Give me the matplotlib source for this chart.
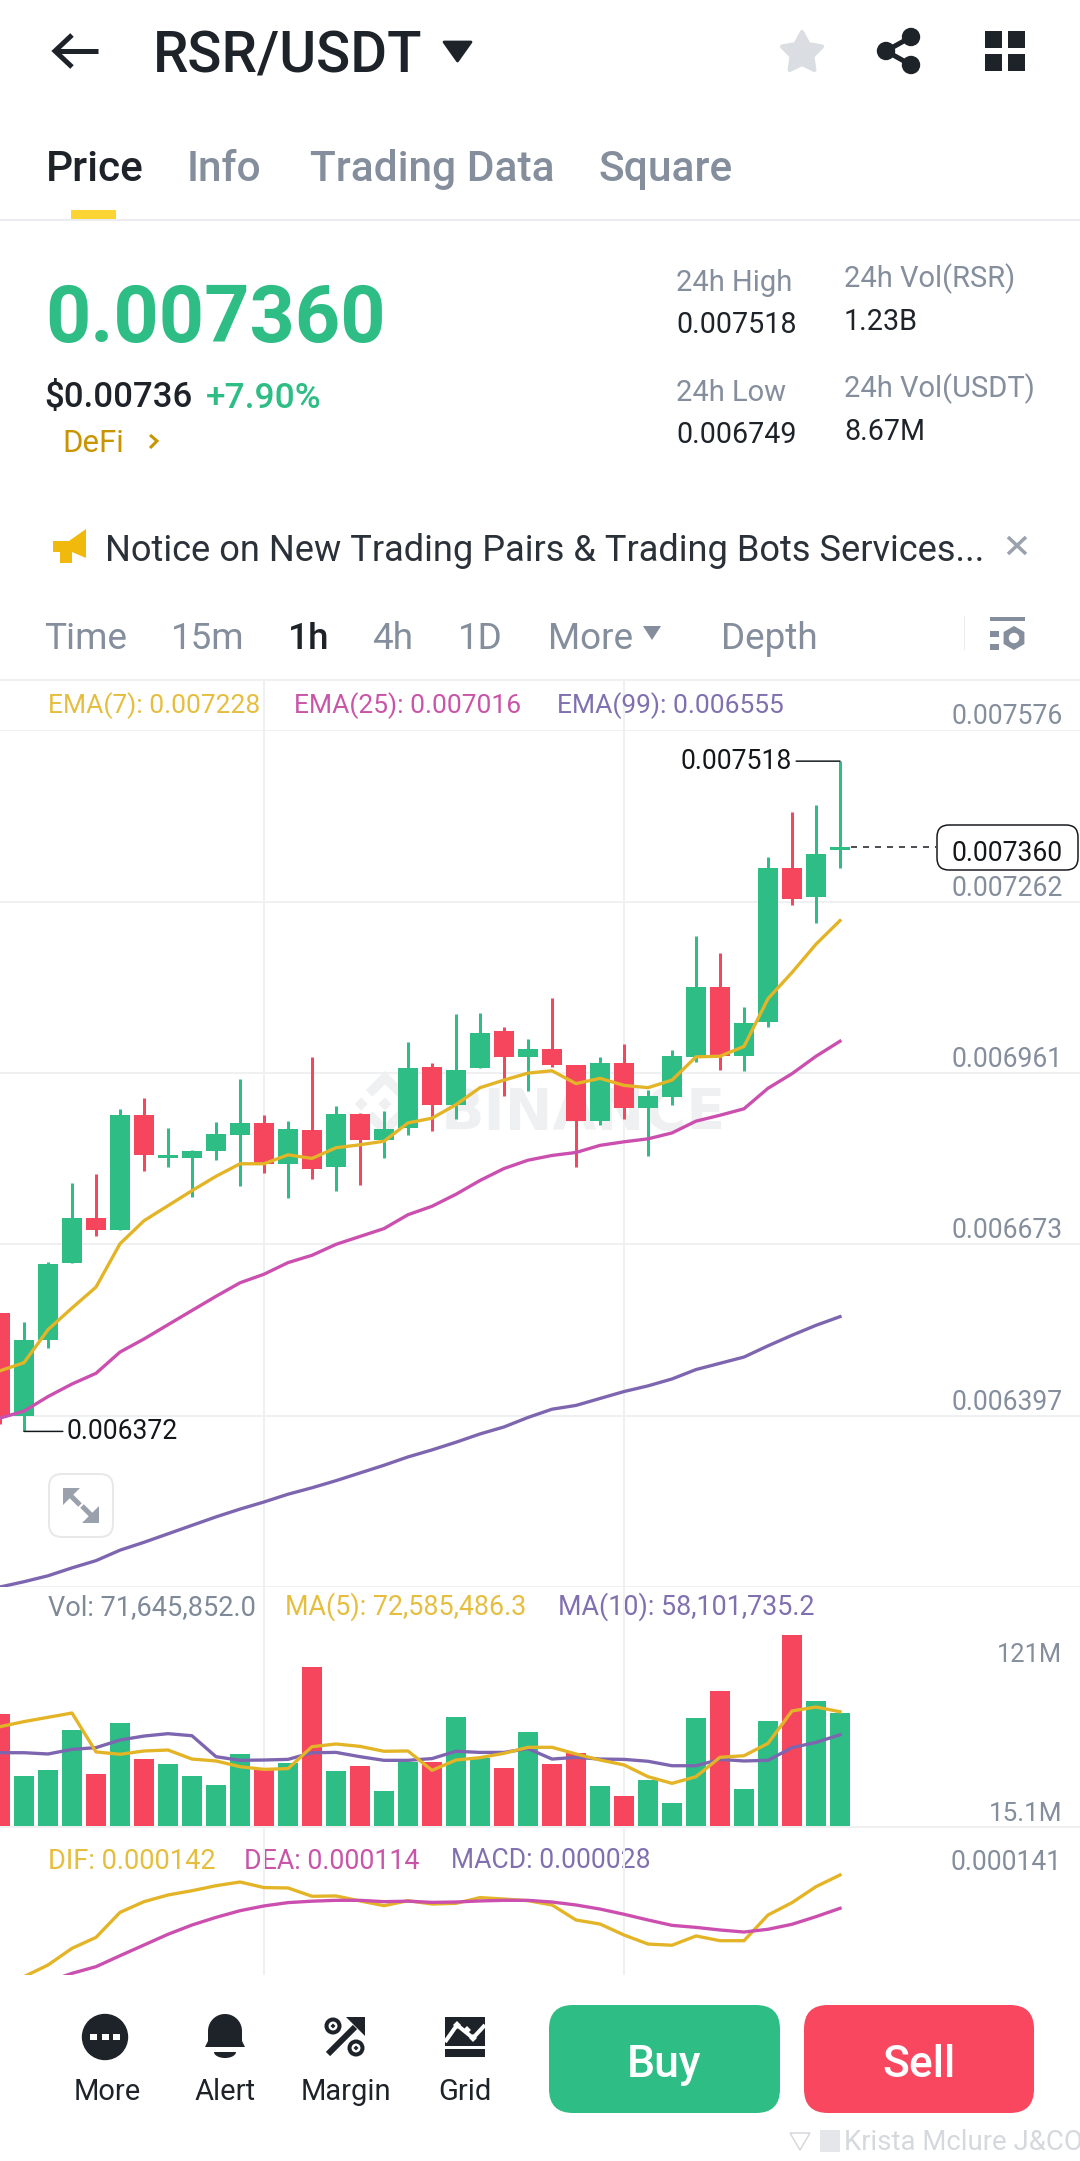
import numpy as np
import matplotlib
matplotlib.use("Agg")
import matplotlib.pyplot as plt
from matplotlib.patches import Polygon, FancyBboxPatch, Circle, Rectangle

plt.rcParams['font.family'] = ['Roboto', 'DejaVu Sans']

# ---------- data (prices in millionths, volume in millions) ----------
opens = [6561,6396,6517,6642,6716,6697,6890,6816,6816,6828,6856,6875,6807,6864,6802,6891,6847,6868,6972,6907,6969,7033,6988,7002,6975,6880,6978,6901,6920,6989,7111,6991,7050,7322,7270,7355]
highs = [6561,6546,6644,6775,6790,6900,6918,6868,6830,6877,6951,6890,6880,6988,6905,6893,6896,7015,6978,7063,7065,7041,7020,7091,6975,6989,7012,6932,7001,7201,7170,7075,7343,7424,7437,7518]
lows = [6384,6372,6505,6642,6686,6697,6795,6802,6751,6814,6770,6792,6750,6782,6762,6772,6816,6855,6862,6883,6969,6921,6930,6971,6802,6872,6883,6820,6906,6980,6966,6964,7041,7255,7224,7322]
closes = [6397,6517,6641,6716,6697,6890,6821,6821,6828,6857,6875,6807,6866,6799,6891,6847,6866,6970,6907,6966,7030,6988,7003,6975,6879,6978,6902,6921,6990,7111,6991,7048,7323,7267,7348,7360]
ema7 = [6468,6481,6534,6569,6603,6674,6712,6737,6762,6786,6807,6807,6822,6816,6834,6839,6845,6876,6884,6907,6936,6949,6961,6965,6943,6952,6940,6936,6949,6989,6990,7007,7090,7136,7186,7228]
ema25 = [6393,6404,6427,6447,6464,6498,6519,6542,6565,6588,6610,6624,6643,6655,6673,6686,6699,6722,6736,6756,6779,6799,6813,6821,6826,6838,6844,6849,6859,6879,6889,6900,6935,6960,6990,7016]
ema99 = [6132,6140,6149,6161,6172,6188,6200,6213,6226,6239,6251,6262,6274,6284,6295,6307,6319,6332,6343,6355,6368,6379,6394,6407,6413,6424,6435,6444,6455,6470,6480,6490,6508,6525,6541,6555]
volume = [71.0,32.3,35.7,61.1,33.6,65.3,43.1,39.9,32.1,26.7,46.2,35.9,40.3,101.0,35.1,38.2,22.5,41.0,41.0,69.1,43.3,37.2,59.9,39.5,46.6,25.6,19.7,29.6,15.1,68.5,85.5,23.9,67.0,121.0,79.6,71.6]
vol_ma5 = [63.2,66.4,69.1,71.8,47.3,45.8,47.9,48.5,42.8,41.6,38.0,36.3,36.8,50.6,52.3,50.8,47.7,47.9,35.7,42.2,43.7,46.4,50.2,50.2,46.0,42.2,39.1,31.7,27.5,31.7,43.9,44.9,52.7,73.1,75.6,72.6]
vol_ma10 = [46.8,46.8,46.0,48.9,50.0,54.8,57.3,58.8,57.5,44.3,42.0,42.2,42.6,46.8,47.0,44.3,42.0,42.0,43.1,47.7,47.0,47.0,49.4,42.8,43.9,42.8,42.6,41.4,38.6,38.6,42.6,41.6,42.0,50.0,53.3,58.1]
dif = [44,56.6,66.4,80.4,89.6,110.6,119.6,125.2,128.8,133,136.1,131.4,131.1,124.1,124.4,120.2,116.2,120.4,117.6,118.2,123,121.8,120.4,116.8,104.2,100.8,91.6,84,83,90.8,86.8,86.8,108.4,118.8,132.2,142]
dea = [40,46,52.4,59.4,65,74.2,83.2,92.2,100,106.4,112,116,118.8,120,120.7,120.7,119.6,120,119,119.3,120.2,120.7,120.7,119.3,116.8,113.4,109,104.2,99.7,98,95.8,94.1,96.4,100.6,107,114]
price_ticks = [7576, 7262, 6961, 6673, 6397, 6132]
time_ticks = [11, 26]

GREEN, RED = '#2EBD85', '#F6465D'
YEL, PINK, PUR = '#E4B427', '#CB4FAE', '#7D65B0'
YELT, PINKT, PURT = '#E6BE3F', '#C955A9', '#8070B0'
GREY, DARK, GRID = '#848E9C', '#1E2329', '#EEF0F2'
LW = 3.3

W, H = 1080, 2161
fig = plt.figure(figsize=(W/100, H/100), dpi=100, facecolor='white')
PX = 0.72

ui = fig.add_axes([0, 0, 1, 1], zorder=0)
ui.set_xlim(0, W); ui.set_ylim(H, 0); ui.axis('off')

def pane(top, bottom):
    a = fig.add_axes([0, 1-bottom/H, 1, (bottom-top)/H], zorder=1)
    a.patch.set_alpha(0)
    for s in a.spines.values():
        s.set_visible(False)
    a.set_xlim(0, 45)
    a.set_xticks(time_ticks)
    a.tick_params(length=0, labelbottom=False, labelleft=False)
    a.grid(True, axis='x', color=GRID, lw=2*PX)
    a.set_axisbelow(True)
    return a

def T(x, yc, s, size, color=DARK, ha='left', weight='normal', **k):
    yb = yc + 0.711*size/PX/2
    if ha == 'left':
        x = x - 2
    ui.text(x, yb, s, fontsize=size, color=color, ha=ha, va='baseline', weight=weight, zorder=5, **k)

def P(pts, color=DARK, **k):
    ui.add_patch(Polygon(pts, closed=True, facecolor=color, edgecolor=k.pop('ec', 'none'), **k))

def L(xs, ys, color=DARK, w=3, **k):
    ui.plot(xs, ys, color=color, lw=w*PX, solid_capstyle=k.pop('cap', 'butt'), solid_joinstyle='miter', **k)

def R(x0, y0, x1, y1, color=DARK):
    ui.add_patch(Rectangle((x0, y0), x1-x0, y1-y0, facecolor=color, edgecolor='none'))

# ---------- header ----------
L([56, 98], [51, 51], w=5)
L([72, 55, 72], [35, 51, 67], w=5)
T(155, 52, 'RSR/USDT', 40.7, weight='medium')
P([(444, 42), (471, 42), (457.5, 61)], ec=DARK, lw=2, joinstyle='round')
ang = np.deg2rad(np.arange(10)*36 - 90)
rad = np.where(np.arange(10) % 2 == 0, 21, 11)
P(np.c_[802+rad*np.cos(ang), 53+rad*np.sin(ang)], color='#DADDE1', ec='#DADDE1', lw=3, joinstyle='round')
L([911, 886, 911], [37, 51, 65], w=5)
for cx, cy in [(911, 37), (886, 51), (911, 65)]:
    ui.add_patch(Circle((cx, cy), 8.5, color=DARK))
for x0 in (985, 1008):
    for y0 in (31, 54):
        R(x0, y0, x0+17, y0+17)

for x, s, c, w in [(48, 'Price', DARK, 'medium'), (189, 'Info', GREY, 'medium'),
                   (312, 'Trading Data', GREY, 'medium'), (600, 'Square', GREY, 'medium')]:
    T(x, 166, s, 30.6, c, weight=w)
R(71, 210, 116, 219, '#FCD535')
R(0, 219, W, 221, '#EAECEF')

T(47, 314, '0.007360', 57, GREEN, weight='bold')
T(46, 395, '$0.00736', 25, DARK, weight='medium')
T(208, 395, '+7.90%', 25.4, GREEN, weight='medium')
T(64, 441, 'DeFi', 22.4, '#C99400')
L([150, 157, 150], [435, 441, 448], '#C99400', w=3)
T(678, 281, '24h High', 21, GREY); T(846, 277, '24h Vol(RSR)', 21, GREY)
T(678, 323, '0.007518', 20.6); T(846, 320, '1.23B', 20.6)
T(678, 391, '24h Low', 21, GREY); T(846, 387, '24h Vol(USDT)', 21, GREY)
T(678, 433, '0.006749', 20.6); T(846, 430, '8.67M', 20.6)

P([(53, 541), (69, 541), (86, 529), (86, 558), (72, 552), (72, 563), (60, 563), (60, 552), (53, 552)], color='#F0B90B')
T(107, 548, 'Notice on New Trading Pairs & Trading Bots Services...', 26.1, '#2B3139')
L([1008, 1026], [537, 554], '#9AA2AE', w=3.5); L([1008, 1026], [554, 537], '#9AA2AE', w=3.5)

for x, s, c in [(46, 'Time', GREY), (173, '15m', GREY), (290, '1h', DARK), (374, '4h', GREY),
                (460, '1D', GREY), (550, 'More', GREY), (723, 'Depth', GREY)]:
    T(x, 636, s, 26.6, c, weight='medium' if s == '1h' else 'normal')
P([(643, 626), (661, 626), (652, 640)], color=GREY)
R(963.5, 616, 965, 650, '#EAECEF')
R(990, 617, 1025, 621, GREY)
R(990, 631, 999, 637, GREY); R(990, 644, 999, 650, GREY)
hex_a = np.deg2rad(np.arange(6)*60 + 30)
P(np.c_[1014+12*np.cos(hex_a), 638+12*np.sin(hex_a)], color=GREY)
ui.add_patch(Circle((1014, 638), 4.5, color='white'))

# chart frame lines in the legend strip
R(0, 679, W, 681, GRID)
for tx in time_ticks:
    R(tx*24-1, 680, tx*24+1, 730, GRID)

# watermark
ui.text(441, 1130, 'BINANCE', fontsize=41, color='#EFF0F1', weight='bold', family='DejaVu Sans', va='baseline')
lc, lr = (385, 1104), 33
def dia(cx, cy, r):
    return [(cx, cy-r), (cx+r, cy), (cx, cy+r), (cx-r, cy)]
for dx, dy, r in [(0, 0, .2), (-.72, 0, .2), (.72, 0, .2)]:
    P(dia(lc[0]+dx*lr, lc[1]+dy*lr, r*lr), color='#EFF0F1')
for sy in (-1, 1):
    P([(lc[0], lc[1]+sy*lr), (lc[0]+.58*lr, lc[1]+sy*.42*lr), (lc[0]+.38*lr, lc[1]+sy*.22*lr), (lc[0], lc[1]+sy*.6*lr),
       (lc[0]-.38*lr, lc[1]+sy*.22*lr), (lc[0]-.58*lr, lc[1]+sy*.42*lr)], color='#EFF0F1')

# ---------- price pane ----------
x = np.arange(len(closes))
sc = 1e-6
o, h, l, c = [np.array(v)*sc for v in (opens, highs, lows, closes)]
colors = [GREEN if (cc >= oo) else RED for oo, cc in zip(o, c)]
ax = pane(730, 1587)
ax.set_yscale('log')
ax.set_ylim(price_ticks[-1]*sc, price_ticks[0]*sc)
ax.set_yticks(np.array(price_ticks)*sc)
ax.minorticks_off()
ax.set_yticks([], minor=True)
ax.tick_params(axis='y', which='both', length=0, labelleft=False)
ax.grid(True, axis='y', which='major', color=GRID, lw=2*PX)
ax.vlines(x, l, h, colors=colors, lw=3*PX, zorder=2)
ax.bar(x, np.maximum(np.abs(c-o), 3e-6), bottom=np.minimum(o, c), width=0.86, color=colors, zorder=2)
ax.plot(x, np.array(ema99)*sc, color=PUR, lw=LW*PX, zorder=3)
ax.plot(x, np.array(ema25)*sc, color=PINK, lw=LW*PX, zorder=3)
ax.plot(x, np.array(ema7)*sc, color=YEL, lw=LW*PX, zorder=3)
for v in price_ticks[:-1]:
    ax.annotate(f'{v*sc:.6f}', xy=(1, v*sc), xycoords=ax.get_yaxis_transform(),
                xytext=(-17.5*PX, 0), textcoords='offset points', ha='right', va='bottom',
                fontsize=19.1, color=GREY)
imax, imin = int(np.argmax(h)), int(np.argmin(l))
ax.annotate(f'{h[imax]:.6f}', xy=(imax, h[imax]), xytext=(-48*PX, 0), textcoords='offset points',
            ha='right', va='center', fontsize=19.1, color='#14171A',
            arrowprops=dict(arrowstyle='-', color='#14171A', lw=1.5*PX, shrinkA=1, shrinkB=0))
ax.annotate(f'{l[imin]:.6f}', xy=(imin, l[imin]), xytext=(43*PX, 0), textcoords='offset points',
            ha='left', va='center', fontsize=19.1, color='#14171A',
            arrowprops=dict(arrowstyle='-', color='#14171A', lw=1.5*PX, shrinkA=1, shrinkB=0))
ax.hlines(c[-1], len(c)-1+0.46, 39.0, colors='#14171A', lw=1.5*PX, linestyles=(0, (4, 4)), zorder=2)
ui.add_patch(FancyBboxPatch((937, 825), 141, 45, boxstyle='round,pad=0,rounding_size=12',
                            facecolor='white', edgecolor='#14171A', lw=1.5*PX, zorder=4))
T(1063, 852, f'{c[-1]:.6f}', 19.1, '#14171A', ha='right')

T(50, 704, 'EMA(7): 0.007228', 19.0, YELT)
T(296, 704, 'EMA(25): 0.007016', 19.0, PINKT)
T(559, 704, 'EMA(99): 0.006555', 19.0, PURT)

ui.add_patch(FancyBboxPatch((49, 1474), 64, 63, boxstyle='round,pad=0,rounding_size=13',
                            facecolor='white', edgecolor='#E6E8EA', lw=2*PX))
P([(63, 1488), (80, 1488), (63, 1505)], color='#9AA1AC'); L([68, 80], [1493, 1505], '#9AA1AC', w=5)
P([(99, 1523), (82, 1523), (99, 1506)], color='#9AA1AC'); L([94, 82], [1518, 1506], '#9AA1AC', w=5)

# ---------- volume pane ----------
va = pane(1587, 1827)
va.set_ylim(0, 151.2)
va.set_yticks([])
va.spines['bottom'].set_visible(True); va.spines['bottom'].set_color(GRID); va.spines['bottom'].set_linewidth(2*PX)
va.bar(x, volume, width=0.86, color=colors, zorder=2)
va.plot(x, vol_ma10, color=PUR, lw=LW*PX, zorder=3)
va.plot(x, vol_ma5, color=YEL, lw=LW*PX, zorder=3)
T(50, 1605, 'Vol: 71,645,852.0', 19.5, '#7F8A98')
T(287, 1605, 'MA(5): 72,585,486.3', 19.4, YELT)
T(560, 1605, 'MA(10): 58,101,735.2', 19.4, PURT)
T(1062, 1653, '121M', 18.4, GREY, ha='right')
T(1062, 1812, '15.1M', 18.8, GREY, ha='right')

# ---------- MACD pane ----------
ma = pane(1827, 1975)
ma.set_ylim(58, 182.3)
ma.set_yticks([])
ma.plot(x, dif, color=YEL, lw=LW*PX, zorder=3)
ma.plot(x, dea, color=PINK, lw=LW*PX, zorder=3)
T(50, 1859, 'DIF: 0.000142', 19.6, YELT)
T(246, 1859, 'DEA: 0.000114', 19.3, PINKT)
T(453, 1859, 'MACD: 0.000028', 19.1, PURT)
T(1062, 1861, '0.000141', 19.1, GREY, ha='right')

# ---------- bottom bar ----------
ui.add_patch(Circle((105, 2037), 22.5, color=DARK))
for x0 in (90, 102, 113):
    R(x0, 2034, x0+7, 2040, 'white')
th = np.linspace(np.pi, 2*np.pi, 30)
bell = list(zip(225+17*np.cos(th), 2031+17*np.sin(th))) + [(242, 2041), (245, 2047), (205, 2047), (208, 2041)]
P(bell)
th2 = np.linspace(0, np.pi, 20)
P(np.c_[225+11*np.cos(th2), 2052+6*np.sin(th2)])
P([(346, 2017), (365, 2017), (365, 2036)])
L([328, 355], [2054, 2027], w=6)
for cx, cy in [(333, 2026), (356, 2048)]:
    ui.add_patch(Circle((cx, cy), 6.5, facecolor='white', edgecolor=DARK, lw=4*PX))
    P(dia(cx, cy, 2.5))
R(445, 2017, 485, 2046)
R(445, 2049, 485, 2057)
L([445, 457, 473, 485], [2042, 2025, 2038, 2025], 'white', w=4)
for cx, cy in [(457, 2025), (473, 2038), (467, 2030)]:
    P(dia(cx, cy, 4), color='white')
for cx, s in [(107, 'More'), (225, 'Alert'), (346, 'Margin'), (465, 'Grid')]:
    T(cx, 2090, s, 21, DARK, ha='center')
ui.add_patch(FancyBboxPatch((549, 2005), 231, 108, boxstyle='round,pad=0,rounding_size=24', facecolor=GREEN, edgecolor='none'))
ui.add_patch(FancyBboxPatch((804, 2005), 230, 108, boxstyle='round,pad=0,rounding_size=24', facecolor='#F8475F', edgecolor='none'))
T(664.5, 2061, 'Buy', 32, 'white', ha='center', weight='medium')
T(919, 2061, 'Sell', 32, 'white', ha='center', weight='medium')

# footer mark
T(846, 2140, 'Krista Mclure J&CO', 19.8, '#D5D8DC')
L([790, 800, 810, 790], [2133, 2150, 2133, 2133], '#D5D8DC', w=1.5)
R(820, 2130, 840, 2152, '#E4E6E9')

fig.savefig('out.png', dpi=100, facecolor='white')
